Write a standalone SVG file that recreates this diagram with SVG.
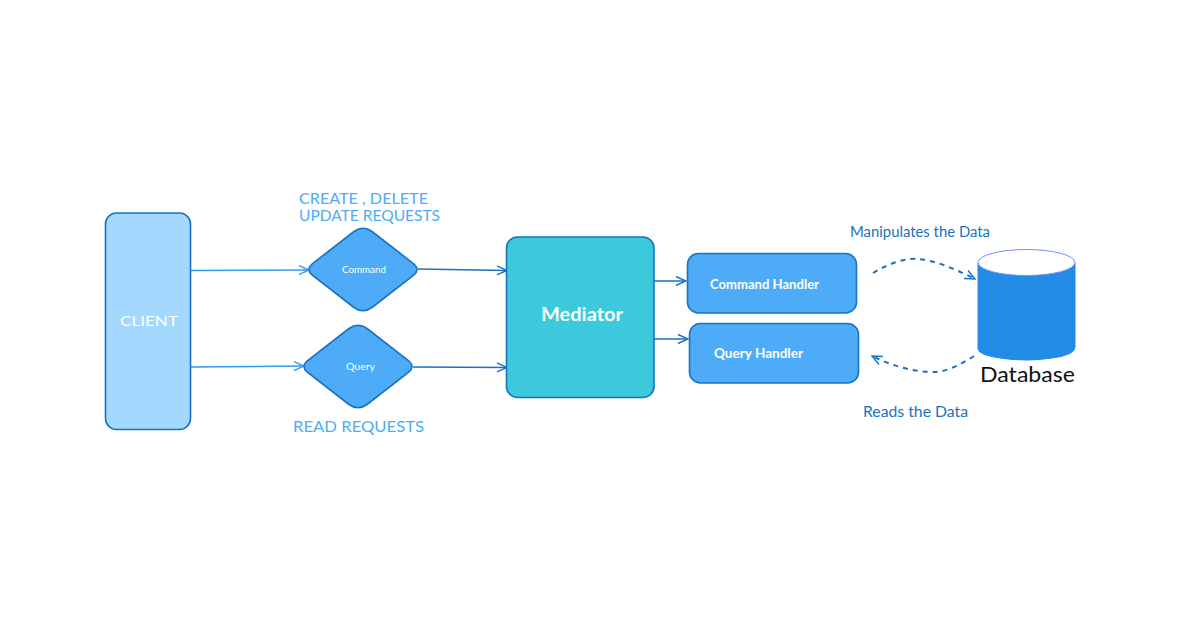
<svg xmlns="http://www.w3.org/2000/svg" width="1200" height="644" viewBox="0 0 1200 644">
<style>
text{font-family:"Lato","Open Sans",sans-serif}
.box{stroke:#1971c2;stroke-width:1.6}
.white{fill:#fff}
.light{fill:#4dabf7;font-size:15px}
.dark{fill:#1971c2;font-size:14.500px}
.c{fill:none;stroke-width:1.5;stroke-linecap:butt}
.d{stroke-width:2;stroke-dasharray:5 5}
</style>
<defs>
<marker id="aL" viewBox="0 0 12 12" refX="11" refY="6" markerWidth="12" markerHeight="12" markerUnits="userSpaceOnUse" orient="auto"><path d="M1 1.500L11 6L1 10.500" fill="none" stroke="#339af0" stroke-width="1.4"/></marker>
<marker id="aD" viewBox="0 0 12 12" refX="11" refY="6" markerWidth="12" markerHeight="12" markerUnits="userSpaceOnUse" orient="auto"><path d="M1 1.500L11 6L1 10.500" fill="none" stroke="#1971c2" stroke-width="1.4"/></marker>
</defs>
<rect width="1200" height="644" fill="#fff"/>
<g id="connectors">
<path class="c" stroke="#339af0" marker-end="url(#aL)" d="M191 270.500L309 270"/>
<path class="c" stroke="#339af0" marker-end="url(#aL)" d="M191 367L304 366"/>
<path class="c" stroke="#1971c2" marker-end="url(#aD)" d="M418 269L507 270.500"/>
<path class="c" stroke="#1971c2" marker-end="url(#aD)" d="M413 367L507 367.500"/>
<path class="c" stroke="#1971c2" marker-end="url(#aD)" d="M654 281L686 281"/>
<path class="c" stroke="#1971c2" marker-end="url(#aD)" d="M654 339L688 339"/>
<path class="c d" stroke="#1971c2" marker-end="url(#aD)" d="M873 273C890 263 905 258 917 259C935 260 955 269 975 279"/>
<path class="c d" stroke="#1971c2" marker-end="url(#aD)" d="M974 356C960 365 945 373 930 372C910 371 890 365 872 356"/>
</g>
<g id="client">
<rect class="box" x="105.500" y="213" width="85" height="216.500" rx="11" fill="#a5d8ff"/>
<text class="white" x="120" y="326" font-size="14" textLength="58" lengthAdjust="spacingAndGlyphs">CLIENT</text>
</g>
<g id="command">
<path class="box" fill="#4dabf7" d="M354 231.500Q363 225 372 231.500L414 264Q420 269.500 414 275L372 307.500Q363 314 354 307.500L312 275Q306 269.500 312 264Z"/>
<text class="white" x="342" y="273" font-size="10" textLength="44" lengthAdjust="spacingAndGlyphs">Command</text>
</g>
<g id="query">
<path class="box" fill="#4dabf7" d="M349 328.500Q358 322 367 328.500L409 361Q415 366.500 409 372L367 404.500Q358 411 349 404.500L307 372Q301 366.500 307 361Z"/>
<text class="white" x="346" y="370" font-size="10" textLength="29" lengthAdjust="spacingAndGlyphs">Query</text>
</g>
<g id="mediator">
<rect class="box" x="506.500" y="237" width="147.500" height="160.500" rx="11" fill="#3bc9db"/>
<text class="white" x="541" y="321" font-size="18" font-weight="700" textLength="82" lengthAdjust="spacingAndGlyphs">Mediator</text>
</g>
<g id="command-handler">
<rect class="box" x="687.500" y="253.500" width="169" height="59.500" rx="11" fill="#4dabf7"/>
<text class="white" x="710" y="288.500" font-size="13" font-weight="700" textLength="109" lengthAdjust="spacingAndGlyphs">Command Handler</text>
</g>
<g id="query-handler">
<rect class="box" x="689.500" y="323.500" width="169" height="59.500" rx="11" fill="#4dabf7"/>
<text class="white" x="714" y="357.500" font-size="13" font-weight="700" textLength="89" lengthAdjust="spacingAndGlyphs">Query Handler</text>
</g>
<g id="database">
<path d="M978 263V349Q979 355 1000 358Q1026 362 1052 358Q1075 355 1075 347V263Z" fill="#228be6" stroke="#228be6"/>
<ellipse cx="1026.500" cy="262.500" rx="48.500" ry="13" fill="#fff" stroke="#748ffc" stroke-width="1"/>
<text x="980" y="382" font-size="21" fill="#111" textLength="95" lengthAdjust="spacingAndGlyphs">Database</text>
</g>
<g id="labels">
<text class="light" x="299" y="204" textLength="129" lengthAdjust="spacingAndGlyphs">CREATE , DELETE</text>
<text class="light" x="299" y="221" textLength="141" lengthAdjust="spacingAndGlyphs">UPDATE REQUESTS</text>
<text class="light" x="293" y="432" textLength="131" lengthAdjust="spacingAndGlyphs">READ REQUESTS</text>
<text class="dark" x="850" y="236.500" textLength="140" lengthAdjust="spacingAndGlyphs">Manipulates the Data</text>
<text class="dark" x="863" y="416.500" textLength="105" lengthAdjust="spacingAndGlyphs">Reads the Data</text>
</g>
</svg>
